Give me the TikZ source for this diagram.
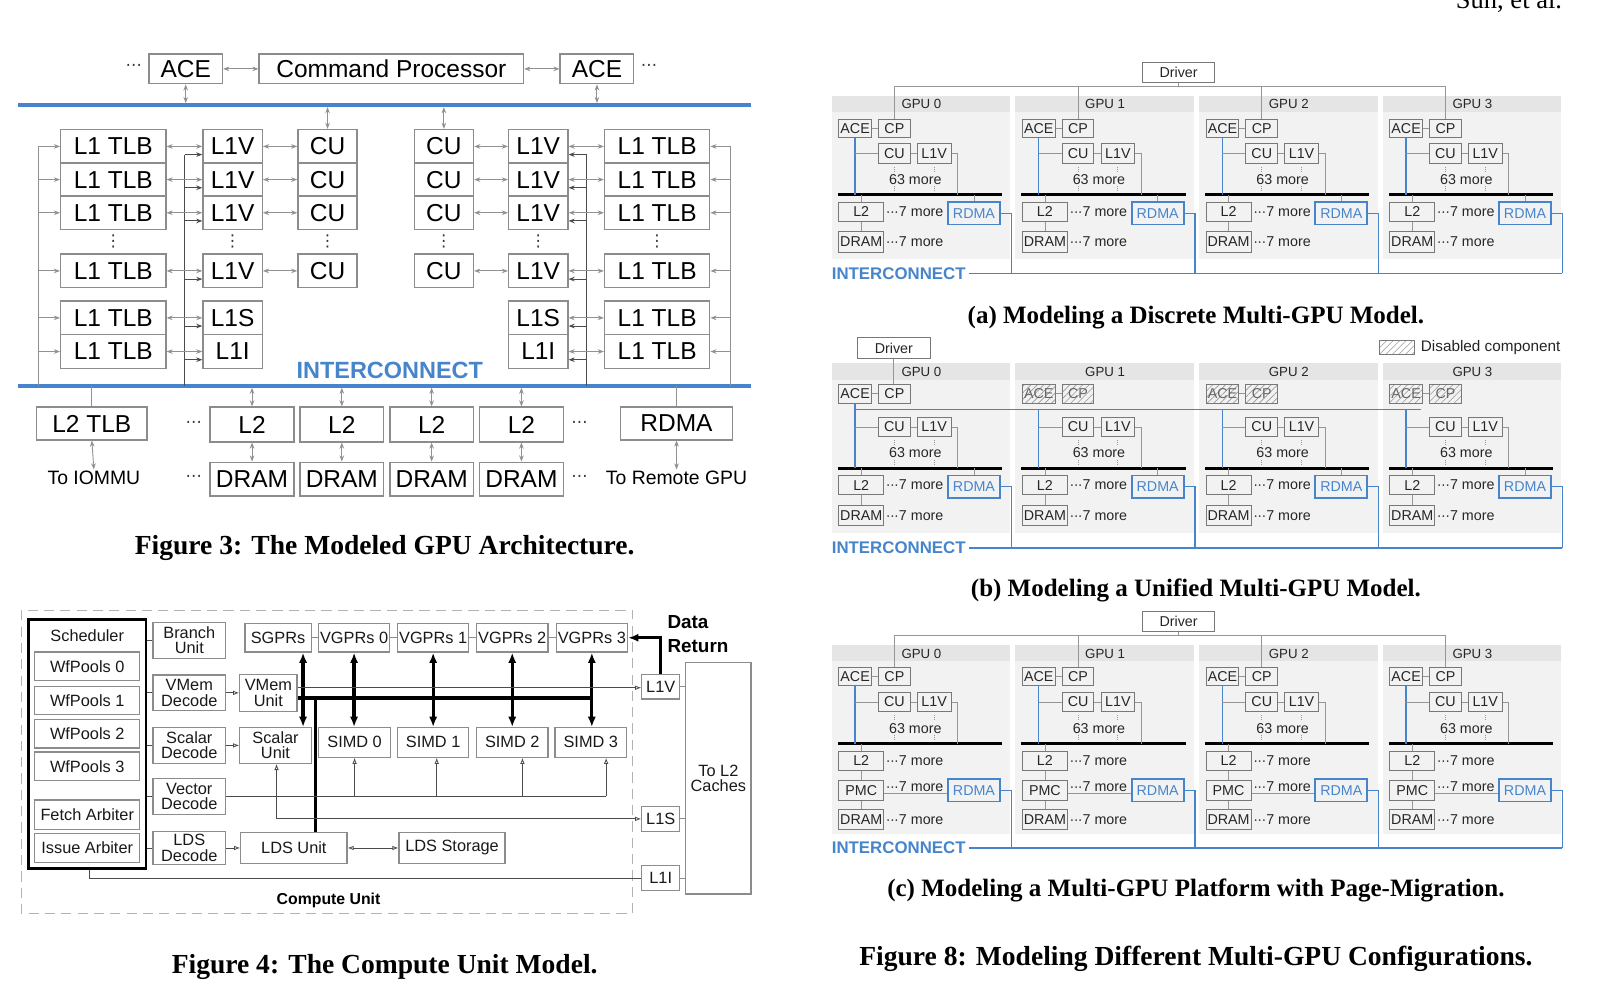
\documentclass[tikz,border=0pt]{standalone}
\usepackage{fontspec}
\setmainfont{Liberation Sans}
\newfontfamily\capfont{Liberation Serif}
\newfontfamily\symfont{DejaVu Sans}
\usetikzlibrary{arrows.meta, calc, patterns.meta, positioning}

\definecolor{icblue}{RGB}{70,133,204}
\definecolor{boxgray}{RGB}{140,140,140}
\definecolor{arrgray}{RGB}{145,145,145}
\definecolor{darkline}{RGB}{75,75,75}
\definecolor{panelbg}{RGB}{242,242,242}
\definecolor{headbg}{RGB}{229,229,229}
\definecolor{frame8}{RGB}{120,120,120}
\definecolor{link8}{RGB}{150,150,150}

\newcommand\mdots{·\kern-0.6pt·\kern-0.6pt·}

\tikzset{
    % Figure 3
    box3/.style={draw=boxgray, line width=1.4pt, inner sep=0pt, minimum height=33pt, font=\fontsize{24}{26}\selectfont},
    txt3/.style={inner sep=1pt, font=\fontsize{19}{21}\selectfont},
    dots3/.style={inner sep=0pt, text=black!80, font=\symfont\fontsize{16}{16}\selectfont},
    garr/.style={draw=arrgray, line width=0.9pt, {Stealth[length=6pt,width=4.5pt]}-{Stealth[length=6pt,width=4.5pt]}},
    gone/.style={draw=arrgray, line width=0.9pt, -{Stealth[length=6pt,width=4.5pt]}},
    gline/.style={draw=arrgray, line width=0.9pt},
    done/.style={draw=darkline, line width=0.9pt, -{Stealth[length=6pt,width=4.5pt]}},
    dline/.style={draw=darkline, line width=0.9pt},
    icbus/.style={draw=icblue, line width=4pt},
    ictxt/.style={inner sep=0pt, text=icblue, font=\bfseries\fontsize{23}{25}\selectfont},
    capt/.style={inner sep=0pt, font=\capfont\bfseries\fontsize{27}{29}\selectfont},
    % Figure 4
    box4/.style={draw=boxgray, line width=1.2pt, inner sep=0pt, align=center, text=black!90, font=\fontsize{16}{15}\selectfont},
    sched4/.style={draw=black, line width=2.5pt, inner sep=0pt, minimum width=115pt, minimum height=244pt},
    lbl4/.style={inner sep=1pt, text=black!90, font=\fontsize{16}{15}\selectfont},
    bold4/.style={inner sep=1pt, font=\bfseries\fontsize{15.5}{17}\selectfont},
    cuframe/.style={draw=black!30, line width=1.2pt, dash pattern=on 10pt off 6pt},
    thin4/.style={draw=darkline, line width=0.8pt},
    link4/.style={draw=black!45, line width=0.8pt},
    oarr/.style={thin4, -{Latex[open, length=6pt, width=4.5pt]}},
    oarr2/.style={thin4, {Latex[open, length=6pt, width=4.5pt]}-{Latex[open, length=6pt, width=4.5pt]}},
    bus4/.style={draw=black, line width=3.2pt},
    barr/.style={bus4, {Latex[length=10pt,width=8pt]}-{Latex[length=10pt,width=8pt]}},
    barr1/.style={bus4, -{Latex[length=10pt,width=8pt]}},
    % Figure 8
    box8/.style={draw=frame8, line width=1pt, inner sep=0pt, text=black!85, font=\fontsize{14}{14}\selectfont},
    dis8/.style={box8, pattern={Lines[angle=45, distance=4.5pt, line width=0.6pt]}, pattern color=black!40, text=black!60},
    rdma8/.style={draw=icblue, line width=1.8pt, inner sep=0pt, text=icblue, font=\fontsize{14}{14}\selectfont},
    more8/.style={inner sep=0pt, text=black!85, font=\fontsize{14}{14}\selectfont},
    lbl8/.style={inner sep=0pt, text=black!85, font=\fontsize{13}{13}\selectfont},
    line8/.style={draw=link8, line width=0.8pt},
    stub8/.style={draw=link8, line width=0.8pt, dash pattern=on 1pt off 1pt},
    bus8/.style={draw=black, line width=3pt},
    bline8/.style={draw=icblue, line width=1.3pt},
    ic8/.style={inner sep=0pt, text=icblue, font=\bfseries\fontsize{16.5}{17}\selectfont},
    sub8/.style={inner sep=0pt, font=\capfont\bfseries\fontsize{24.5}{26}\selectfont},
}

\begin{document}
\begin{tikzpicture}[x=1pt, y=-1pt]

\useasboundingbox[fill=white] (0,0) rectangle (1568,980);

% Kopfzeile
\node[anchor=base east, inner sep=0pt, font=\capfont\fontsize{26}{28}\selectfont] (runhead) at (1531,8) {Sun, et al.};

%%%%%%%%%%%%%%%% Figure 3 %%%%%%%%%%%%%%%%

% Kommandoebene
\node[box3, minimum width=72pt, minimum height=29pt] (aceL) at (182,67.5) {ACE};
\node[box3, minimum width=259pt, minimum height=29pt] (cmdp) at (383.5,67.5) {Command Processor};
\node[box3, minimum width=72pt, minimum height=29pt] (aceR) at (585,67.5) {ACE};
\node[dots3] (dotTL) at (131,66) {⋯};
\node[dots3] (dotTR) at (636,66) {⋯};
\draw[garr] (aceL) -- (cmdp);
\draw[garr] (cmdp) -- (aceR);

% Interconnect-Linien
\coordinate (tbw) at (18,103);
\coordinate (tbe) at (736,103);
\coordinate (bbw) at (18,378);
\coordinate (bbe) at (736,378);
\draw[icbus] (tbw) -- (tbe);
\draw[icbus] (bbw) -- (bbe);
\node[ictxt] (ictext) at (382,363) {INTERCONNECT};

% Zeilen mit L1 TLB, L1V und CU
\foreach \r/\y in {1/143.5, 2/176, 3/208.5, 4/265.5} {
    \node[box3, minimum width=103pt] (tlbL\r) at (111,\y) {L1 TLB};
    \node[box3, minimum width=58pt] (lvL\r) at (228,\y) {L1V};
    \node[box3, minimum width=58pt] (cuL\r) at (321,\y) {CU};
    \node[box3, minimum width=58pt] (cuR\r) at (435,\y) {CU};
    \node[box3, minimum width=58pt] (lvR\r) at (527.5,\y) {L1V};
    \node[box3, minimum width=103pt] (tlbR\r) at (644,\y) {L1 TLB};
    \draw[garr] (lvL\r) -- (cuL\r);
    \draw[garr] (cuR\r) -- (lvR\r);
}
\foreach \r/\y/\t in {5/311.5/L1S, 6/344.5/L1I} {
    \node[box3, minimum width=103pt] (tlbL\r) at (111,\y) {L1 TLB};
    \node[box3, minimum width=58pt] (lvL\r) at (228,\y) {\t};
    \node[box3, minimum width=58pt] (lvR\r) at (527.5,\y) {\t};
    \node[box3, minimum width=103pt] (tlbR\r) at (644,\y) {L1 TLB};
}

% Punkte zwischen den Zeilen
\foreach \x [count=\i] in {111, 228, 321, 435, 527.5, 644}
    \node[dots3] (vd\i) at (\x,237) {⋮};

% senkrechte Sammelleitungen
\coordinate (lvlL) at (38,143.5);
\coordinate (lvlR) at (716,143.5);
\coordinate (spL) at (181,151.5);
\coordinate (spR) at (575,151.5);
\draw[gline] (lvlL) -- (lvlL |- bbw);
\draw[gline] (lvlR) -- (lvlR |- bbw);
\draw[dline] (spL) -- (spL |- bbw);
\draw[dline] (spR) -- (spR |- bbw);

\foreach \r in {1,...,6} {
    \draw[garr] (tlbL\r) -- (lvL\r);
    \draw[garr] (lvR\r) -- (tlbR\r);
    \draw[gone] (tlbL\r.west -| lvlL) -- (tlbL\r.west);
    \draw[gone] (tlbR\r.east -| lvlR) -- (tlbR\r.east);
    \draw[done] ([yshift=-8pt]lvL\r.west -| spL) -- ([yshift=-8pt]lvL\r.west);
    \draw[done] ([yshift=-8pt]lvR\r.east -| spR) -- ([yshift=-8pt]lvR\r.east);
}

% Anbindung an die obere Linie
\draw[garr, shorten >=2pt] (aceL.south) -- (aceL.south |- tbw);
\draw[garr, shorten >=2pt] (aceR.south) -- (aceR.south |- tbw);
\draw[garr, shorten <=2pt] (cuL1.north |- tbw) -- (cuL1.north);
\draw[garr, shorten <=2pt] (cuR1.north |- tbw) -- (cuR1.north);

% untere Ebene
\node[box3, minimum width=108pt, minimum height=32pt] (l2tlb) at (90,415) {L2 TLB};
\node[txt3] (iommu) at (92,468) {To IOMMU};
\draw[gline] (l2tlb.north |- bbw) -- (l2tlb.north);
\draw[garr] (l2tlb.south) -- (iommu.north);
\foreach \x [count=\i] in {247, 335, 423, 511} {
    \node[box3, minimum width=82pt, minimum height=34pt] (l2\i) at (\x,416) {L2};
    \node[box3, minimum width=82pt, minimum height=33pt] (dram\i) at (\x,469.5) {DRAM};
    \draw[garr, shorten <=2pt] (l2\i.north |- bbw) -- (l2\i.north);
    \draw[garr] (l2\i) -- (dram\i);
}
\node[box3, minimum width=110pt, minimum height=32pt] (rdma) at (663,415) {RDMA};
\node[txt3] (remote) at (663,468) {To Remote GPU};
\draw[gline] (rdma.north |- bbw) -- (rdma.north);
\draw[garr] (rdma.south) -- (remote.north);
\node[dots3] (dotB1) at (190,416) {⋯};
\node[dots3] (dotB2) at (190,469) {⋯};
\node[dots3] (dotB3) at (568,416) {⋯};
\node[dots3] (dotB4) at (568,469) {⋯};

\node[capt] (cap3) at (377,537) {Figure 3: The Modeled GPU Architecture.};

%%%%%%%%%%%%%%%% Figure 4 %%%%%%%%%%%%%%%%

\draw[cuframe] (21,598) rectangle (620,895);
\node[bold4] (cutitle) at (322,882) {Compute Unit};

% Scheduler
\node[sched4] (sched) at (85.5,729) {};
\node[lbl4] (schedt) at (85.5,623) {Scheduler};
\foreach \i/\y in {0/653, 1/686.5, 2/719, 3/751}
    \node[box4, minimum width=103pt, minimum height=28pt] (wf\i) at (85.5,\y) {WfPools \i};
\node[box4, minimum width=103pt, minimum height=29pt] (fetch) at (85.5,798.5) {Fetch Arbiter};
\node[box4, minimum width=103pt, minimum height=29pt] (issue) at (85.5,831) {Issue Arbiter};

% Decoder
\node[box4, minimum width=71pt, minimum height=35pt] (branch) at (185.5,627.5) {Branch\\Unit};
\node[box4, minimum width=71pt, minimum height=35pt] (vmemd) at (185.5,679) {VMem\\Decode};
\node[box4, minimum width=71pt, minimum height=35pt] (scald) at (185.5,730.5) {Scalar\\Decode};
\node[box4, minimum width=71pt, minimum height=35pt] (vecd) at (185.5,780.5) {Vector\\Decode};
\node[box4, minimum width=71pt, minimum height=32pt] (ldsd) at (185.5,831) {LDS\\Decode};
\foreach \n in {branch, vmemd, scald, vecd, ldsd}
    \draw[thin4] (sched.east |- \n.west) -- (\n.west);

% Register und Einheiten
\node[box4, minimum width=65pt, minimum height=28pt] (sgprs) at (272.5,625) {SGPRs};
\foreach \x [count=\i from 0] in {347, 424.5, 502, 580}
    \node[box4, minimum width=70pt, minimum height=28pt] (vgpr\i) at (\x,625) {VGPRs \i};
\foreach \x [count=\i from 0] in {347.5, 424.5, 502, 579}
    \node[box4, minimum width=70pt, minimum height=29pt] (simd\i) at (\x,727.5) {SIMD \i};
\node[box4, minimum width=56pt, minimum height=36pt] (vmemu) at (263,679) {VMem\\Unit};
\node[box4, minimum width=70pt, minimum height=35pt] (scalu) at (270,730.5) {Scalar\\Unit};
\node[box4, minimum width=104pt, minimum height=30pt] (ldsu) at (288,831) {LDS Unit};
\node[box4, minimum width=104pt, minimum height=30pt] (ldss) at (443,831) {LDS Storage};

\draw[link4] (sgprs) -- (vgpr0);
\draw[link4] (vgpr0) -- (vgpr1);
\draw[link4] (vgpr1) -- (vgpr2);
\draw[link4] (vgpr2) -- (vgpr3);
\draw[oarr] (vmemd) -- (vmemu);
\draw[oarr] (scald) -- (scalu);
\draw[oarr] (ldsd) -- (ldsu);
\draw[oarr2] (ldsu) -- (ldss);

% Caches rechts
\node[box4, minimum width=37pt, minimum height=24pt] (cl1v) at (647.5,673) {L1V};
\node[box4, minimum width=37pt, minimum height=24pt] (cl1s) at (647.5,802.5) {L1S};
\node[box4, minimum width=37pt, minimum height=24pt] (cl1i) at (647.5,860.5) {L1I};
\node[box4, minimum width=64pt, minimum height=227pt] (tol2) at (704,762.5) {To L2\\Caches};
\foreach \n in {cl1v, cl1s, cl1i}
    \draw[link4] (\n.east) -- (\n.east -| tol2.west);
\node[anchor=west, align=left, inner sep=1pt, font=\bfseries\fontsize{18.5}{23}\selectfont] (dret) at (653,621.5) {Data\\Return};

% dicke Datenwege
\draw[barr] ([xshift=24.5pt]sgprs.south) -- ([xshift=24.5pt]sgprs.south |- scalu.north);
\foreach \i in {0,...,3}
    \draw[barr] (vgpr\i.south) -- (vgpr\i.south |- simd\i.north);
\coordinate (vbus) at ([yshift=-5pt]vmemu.east);
\draw[bus4] (vbus) -- (vbus -| vgpr3.south);
\draw[bus4] ([xshift=21pt]ldsu.north) -- ([xshift=21pt]ldsu.north |- vbus);
\draw[barr1] (cl1v.north) |- (vgpr3.east);

% duenne Steuerleitungen
\draw[oarr] ([yshift=5pt]vmemu.east) -- ([yshift=5pt]vmemu.east -| cl1v.west);
\coordinate (vecj) at ([xshift=15pt]simd3.south |- vecd.east);
\draw[thin4] (vecd.east) -- (vecj);
\foreach \i/\dx in {0/0, 1/3.5, 2/10, 3/15}
    \draw[oarr] ([xshift=\dx pt]simd\i.south |- vecd.east) -- ([xshift=\dx pt]simd\i.south);
\draw[oarr2] ([xshift=1pt]scalu.south) |- (cl1s.west);
\draw[thin4] ([xshift=2.5pt]sched.south) |- (cl1i.west);

\node[capt] (cap4) at (377,948) {Figure 4: The Compute Unit Model.};

%%%%%%%%%%%%%%%% Figure 8 (a) %%%%%%%%%%%%%%%%

\node[box8, minimum width=71pt, minimum height=20pt] (adrv) at (1155,71) {Driver};
\coordinate (adrvj) at (1155,85);
\draw[line8] (adrv.south) -- (adrvj);
\foreach \g in {0,...,3} {
    \pgfmathsetmacro{\xo}{815+180*\g}
    \fill[panelbg] (\xo,94) rectangle ++(175,160);
    \fill[headbg] (\xo,94) rectangle ++(175,16);
    \node[lbl8] (a\g-name) at (\xo+88,102) {GPU \g};
    \node[box8, minimum width=32pt, minimum height=18pt] (a\g-ace) at (\xo+23,126) {ACE};
    \node[box8, minimum width=31pt, minimum height=18pt] (a\g-cp) at (\xo+61.5,126) {CP};
    \node[box8, minimum width=31pt, minimum height=19pt] (a\g-cu) at (\xo+61.5,150.5) {CU};
    \node[box8, minimum width=33pt, minimum height=19pt] (a\g-l1v) at (\xo+100.5,150.5) {L1V};
    \node[more8] (a\g-cum) at (\xo+82,176) {63 more};
    \coordinate (a\g-busw) at (\xo+6,191);
    \coordinate (a\g-buse) at (\xo+167,191);
    \node[box8, minimum width=44pt, minimum height=19pt] (a\g-l2) at (\xo+29,207.5) {L2};
    \node[more8, anchor=west] (a\g-l2m) at (\xo+53,207) {\mdots7 more};
    \node[rdma8, minimum width=51pt, minimum height=22pt] (a\g-rdma) at (\xo+139.5,209) {RDMA};
    \node[box8, minimum width=44pt, minimum height=20pt] (a\g-dram) at (\xo+29,237) {DRAM};
    \node[more8, anchor=west] (a\g-drm) at (\xo+53,237) {\mdots7 more};
    \coordinate (a\g-ic) at (\xo+176,268);
    % Verbindungen
    \draw[line8] (a\g-ace) -- (a\g-cp);
    \draw[line8] (a\g-cu) -- (a\g-l1v);
    \draw[line8] (a\g-cp.north) |- (adrvj);
    \draw[bus8] (a\g-busw) -- (a\g-buse);
    \draw[bline8] (a\g-ace.south) -- (a\g-ace.south |- a\g-busw);
    \draw[line8] (a\g-cu.west) -- (a\g-cu.west -| a\g-ace.south);
    \draw[line8] (a\g-l1v.east) -| ([xshift=6pt]a\g-l1v.east |- a\g-busw);
    \draw[stub8] (a\g-cu.south) ++(0,3) -- ++(0,6) (a\g-cu.south) ++(0,22) -- ++(0,6);
    \draw[stub8] (a\g-l1v.south) ++(0,3) -- ++(0,6) (a\g-l1v.south) ++(0,22) -- ++(0,6);
    \draw[line8] (a\g-l2.north) -- (a\g-l2.north |- a\g-busw);
    \draw[line8] (a\g-l2) -- (a\g-dram);
    \draw[line8] (a\g-rdma.north) -- (a\g-rdma.north |- a\g-busw);
    \draw[bline8] (a\g-rdma.east) -| (a\g-ic);
}
\node[ic8, anchor=west] (a-ic) at (815,268) {INTERCONNECT};
\draw[bline8] ([xshift=3pt]a-ic.east) -- (a3-ic);
\node[sub8] (cap8a) at (1172,311) {(a) Modeling a Discrete Multi-GPU Model.};

%%%%%%%%%%%%%%%% Figure 8 (b) %%%%%%%%%%%%%%%%

\node[box8, minimum width=72pt, minimum height=20pt] (bdrv) at (876,341) {Driver};
\node[dis8, minimum width=34pt, minimum height=13pt] (legbox) at (1369,340.5) {};
\node[lbl8, anchor=west, font=\fontsize{15}{15}\selectfont] (legtxt) at ([xshift=6pt]legbox.east) {Disabled component};
\coordinate (bue) at (1393,401);
\foreach \g/\st in {0/box8, 1/dis8, 2/dis8, 3/dis8} {
    \pgfmathsetmacro{\xo}{815+180*\g}
    \fill[panelbg] (\xo,356) rectangle ++(175,166);
    \fill[headbg] (\xo,356) rectangle ++(175,16);
    \node[lbl8] (b\g-name) at (\xo+88,364) {GPU \g};
    \node[\st, minimum width=32pt, minimum height=18pt] (b\g-ace) at (\xo+23,386) {ACE};
    \node[\st, minimum width=31pt, minimum height=18pt] (b\g-cp) at (\xo+61.5,386) {CP};
    \coordinate (b\g-uj) at (\xo+23,401);
    \node[box8, minimum width=31pt, minimum height=19pt] (b\g-cu) at (\xo+61.5,418.5) {CU};
    \node[box8, minimum width=33pt, minimum height=19pt] (b\g-l1v) at (\xo+100.5,418.5) {L1V};
    \node[more8] (b\g-cum) at (\xo+82,444) {63 more};
    \coordinate (b\g-busw) at (\xo+6,459);
    \coordinate (b\g-buse) at (\xo+167,459);
    \node[box8, minimum width=44pt, minimum height=19pt] (b\g-l2) at (\xo+29,475.5) {L2};
    \node[more8, anchor=west] (b\g-l2m) at (\xo+53,475) {\mdots7 more};
    \node[rdma8, minimum width=51pt, minimum height=22pt] (b\g-rdma) at (\xo+139.5,477) {RDMA};
    \node[box8, minimum width=44pt, minimum height=20pt] (b\g-dram) at (\xo+29,505) {DRAM};
    \node[more8, anchor=west] (b\g-drm) at (\xo+53,505) {\mdots7 more};
    \coordinate (b\g-ic) at (\xo+176,537);
    % Verbindungen
    \draw[line8] (b\g-ace) -- (b\g-cp);
    \draw[line8] (b\g-cu) -- (b\g-l1v);
    \draw[bus8] (b\g-busw) -- (b\g-buse);
    \draw[bline8] (b\g-uj) -- (b\g-uj |- b\g-busw);
    \draw[line8] (b\g-cu.west) -- (b\g-cu.west -| b\g-uj);
    \draw[line8] (b\g-l1v.east) -| ([xshift=6pt]b\g-l1v.east |- b\g-busw);
    \draw[stub8] (b\g-cu.south) ++(0,3) -- ++(0,6) (b\g-cu.south) ++(0,22) -- ++(0,6);
    \draw[stub8] (b\g-l1v.south) ++(0,3) -- ++(0,6) (b\g-l1v.south) ++(0,22) -- ++(0,6);
    \draw[line8] (b\g-l2.north) -- (b\g-l2.north |- b\g-busw);
    \draw[line8] (b\g-l2) -- (b\g-dram);
    \draw[line8] (b\g-rdma.north) -- (b\g-rdma.north |- b\g-busw);
    \draw[bline8] (b\g-rdma.east) -| (b\g-ic);
}
\draw[line8] (bdrv.south) -- (bdrv.south |- b0-cp.north);
\draw[bline8] (b0-ace.south) -- (b0-uj);
\draw[bline8] (b0-uj) -- (bue);
\node[ic8, anchor=west] (b-ic) at (815,537) {INTERCONNECT};
\draw[bline8] ([xshift=3pt]b-ic.east) -- (b3-ic);
\node[sub8] (cap8b) at (1172,579) {(b) Modeling a Unified Multi-GPU Model.};

%%%%%%%%%%%%%%%% Figure 8 (c) %%%%%%%%%%%%%%%%

\node[box8, minimum width=71pt, minimum height=20pt] (cdrv) at (1155,609) {Driver};
\coordinate (cdrvj) at (1155,623);
\draw[line8] (cdrv.south) -- (cdrvj);
\foreach \g in {0,...,3} {
    \pgfmathsetmacro{\xo}{815+180*\g}
    \fill[panelbg] (\xo,632) rectangle ++(175,185);
    \fill[headbg] (\xo,632) rectangle ++(175,16);
    \node[lbl8] (c\g-name) at (\xo+88,641) {GPU \g};
    \node[box8, minimum width=32pt, minimum height=18pt] (c\g-ace) at (\xo+23,663) {ACE};
    \node[box8, minimum width=31pt, minimum height=18pt] (c\g-cp) at (\xo+61.5,663) {CP};
    \node[box8, minimum width=31pt, minimum height=19pt] (c\g-cu) at (\xo+61.5,688) {CU};
    \node[box8, minimum width=33pt, minimum height=19pt] (c\g-l1v) at (\xo+100.5,688) {L1V};
    \node[more8] (c\g-cum) at (\xo+82,714) {63 more};
    \coordinate (c\g-busw) at (\xo+6,729);
    \coordinate (c\g-buse) at (\xo+167,729);
    \node[box8, minimum width=44pt, minimum height=19pt] (c\g-l2) at (\xo+29,745.5) {L2};
    \node[more8, anchor=west] (c\g-l2m) at (\xo+53,745) {\mdots7 more};
    \node[box8, minimum width=44pt, minimum height=20pt] (c\g-pmc) at (\xo+29,774.5) {PMC};
    \node[more8, anchor=west] (c\g-pmm) at (\xo+53,771) {\mdots7 more};
    \node[rdma8, minimum width=51pt, minimum height=22pt] (c\g-rdma) at (\xo+139.5,774.5) {RDMA};
    \node[box8, minimum width=44pt, minimum height=20pt] (c\g-dram) at (\xo+29,803) {DRAM};
    \node[more8, anchor=west] (c\g-drm) at (\xo+53,803) {\mdots7 more};
    \coordinate (c\g-ic) at (\xo+176,831);
    % Verbindungen
    \draw[line8] (c\g-ace) -- (c\g-cp);
    \draw[line8] (c\g-cu) -- (c\g-l1v);
    \draw[line8] (c\g-cp.north) |- (cdrvj);
    \draw[bus8] (c\g-busw) -- (c\g-buse);
    \draw[bline8] (c\g-ace.south) -- (c\g-ace.south |- c\g-busw);
    \draw[line8] (c\g-cu.west) -- (c\g-cu.west -| c\g-ace.south);
    \draw[line8] (c\g-l1v.east) -| ([xshift=6pt]c\g-l1v.east |- c\g-busw);
    \draw[stub8] (c\g-cu.south) ++(0,3) -- ++(0,6) (c\g-cu.south) ++(0,22) -- ++(0,6);
    \draw[stub8] (c\g-l1v.south) ++(0,3) -- ++(0,6) (c\g-l1v.south) ++(0,22) -- ++(0,6);
    \draw[line8] (c\g-l2.north) -- (c\g-l2.north |- c\g-busw);
    \draw[line8] (c\g-l2) -- (c\g-pmc);
    \draw[line8] (c\g-pmc) -- (c\g-dram);
    \draw[line8] ([yshift=-3pt]c\g-pmc.east) -- ([yshift=-3pt]c\g-pmc.east -| c\g-rdma.west);
    \draw[bline8] (c\g-rdma.east) -| (c\g-ic);
}
\node[ic8, anchor=west] (c-ic) at (815,831) {INTERCONNECT};
\draw[bline8] ([xshift=3pt]c-ic.east) -- (c3-ic);
\node[sub8] (cap8c) at (1172,873) {(c) Modeling a Multi-GPU Platform with Page-Migration.};

\node[capt] (cap8) at (1172,940) {Figure 8: Modeling Different Multi-GPU Configurations.};

\end{tikzpicture}
\end{document}
